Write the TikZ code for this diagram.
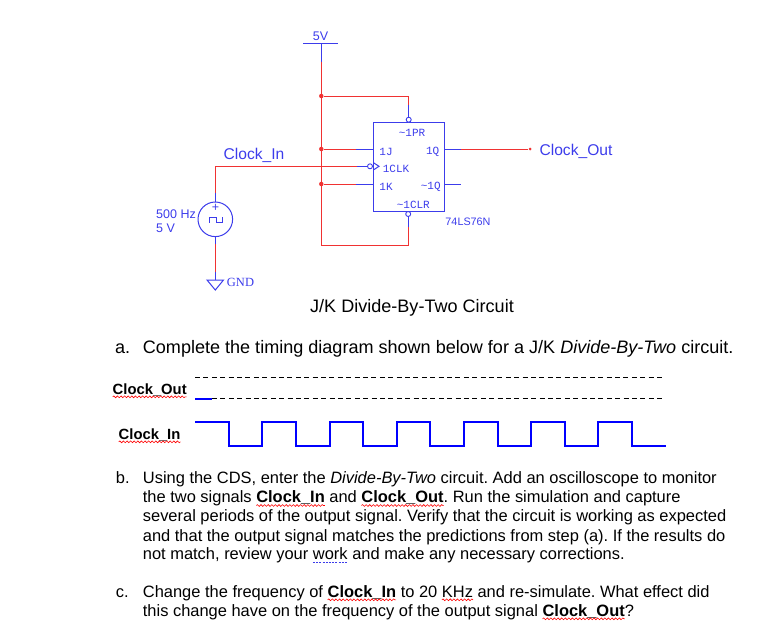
\documentclass[tikz,border=0pt]{standalone}
\usepackage{fontspec}
\setmainfont{Liberation Sans}
\newfontfamily\chipfont{Liberation Mono}
\newfontfamily\gndfont{Liberation Serif}
\usetikzlibrary{decorations.pathmorphing}
\frenchspacing
\definecolor{wireblue}{RGB}{60,60,235}
\definecolor{wirered}{RGB}{240,50,50}
\definecolor{sigblue}{RGB}{0,0,255}
\newlength{\wavylen}
\newcommand{\wavy}[2][red]{\setbox0=\hbox{#2}\setlength{\wavylen}{\wd0}\leavevmode\rlap{\box0}\tikz[overlay]{\draw[#1,line width=0.6pt,decorate,decoration={snake,amplitude=0.9pt,segment length=3.6pt}] (0pt,-2.8pt) -- (\wavylen,-2.8pt);}\hspace{\wavylen}}
\newcommand{\dotted}[1]{\setbox0=\hbox{#1}\setlength{\wavylen}{\wd0}\leavevmode\rlap{\box0}\tikz[overlay]{\draw[wireblue,line width=0.8pt,dash pattern=on 2pt off 1.2pt] (0pt,-3pt) -- (\wavylen,-3pt);}\hspace{\wavylen}}
\newcommand{\sig}[1]{\wavy{\textbf{#1}}}
\tikzset{
	bluewire/.style={draw=wireblue,line width=1pt},
	redwire/.style={draw=wirered,line width=1pt},
	junction/.style={circle,fill=wirered,inner sep=0pt,minimum size=4.5pt},
	bubble/.style={circle,draw=wireblue,fill=white,line width=0.9pt,inner sep=0pt,minimum size=5pt},
	chiplabel/.style={text=wireblue,inner sep=0pt,font=\chipfont\fontsize{11}{11}\selectfont},
	partlabel/.style={text=wireblue,inner sep=0pt,font=\fontsize{12.5}{14}\selectfont},
	netlabel/.style={text=wireblue,inner sep=0pt,font=\fontsize{15.6}{15.6}\selectfont},
	bodyline/.style={anchor=base west,inner sep=0pt,font=\fontsize{16.45}{17}\selectfont},
	bigline/.style={anchor=base west,inner sep=0pt,font=\fontsize{18.05}{18}\selectfont},
	siglabel/.style={anchor=base west,inner sep=0pt,font=\fontsize{14.8}{15}\selectfont},
	guide/.style={draw=black,line width=0.8pt,dash pattern=on 5pt off 3.4pt},
	pulse/.style={draw=sigblue,line width=2pt}
}
\begin{document}
\begin{tikzpicture}[x=1pt,y=-1pt]
	\useasboundingbox (0,0) rectangle (767,630);
	% supply rail
	\coordinate (railtop) at (321.3,43.7);
	\coordinate (railblue) at (321.3,61.7);
	\coordinate (railend) at (321.3,245.7);
	\node[junction] (jpr) at (321.3,96) {};
	\node[junction] (jj) at (321.3,149) {};
	\node[junction] (jk) at (321.3,184) {};
	\node[partlabel] (vcc) at (320.5,36) {5V};
	\draw[bluewire] (303,43.7) -- (338,43.7);
	\draw[bluewire] (railtop) -- (railblue);
	\draw[redwire] (railblue) -- (railend);
	% flip flop
	\node[draw=wireblue,line width=1pt,minimum width=71pt,minimum height=88.6pt,inner sep=0pt] (ff) at (408.8,167) {};
	\node[bubble] (prb) at (408.7,119.7) {};
	\node[bubble] (clrb) at (408.2,214) {};
	\node[bubble] (clkb) at (370,166.3) {};
	\draw[bluewire] (373.3,162.6) -- (379,166.3) -- (373.3,170);
	\node[chiplabel] (pr) at (412,132.7) {\textasciitilde 1PR};
	\node[chiplabel] (pj) at (386,151.5) {1J};
	\node[chiplabel] (pq) at (432.7,151.5) {1Q};
	\node[chiplabel] (pclk) at (396,169) {1CLK};
	\node[chiplabel] (pk) at (386,187) {1K};
	\node[chiplabel] (pnq) at (430.7,187) {\textasciitilde 1Q};
	\node[chiplabel] (clr) at (413.3,205) {\textasciitilde 1CLR};
	\node[partlabel,font=\fontsize{10.8}{12}\selectfont] (part) at (468,221.5) {74LS76N};
	% preset and clear
	\coordinate (prred) at (408.7,105);
	\coordinate (clrred) at (408.2,227);
	\draw[redwire] (jpr) -- (408.7,96) -- (prred);
	\draw[bluewire] (prred) -- (prb);
	\draw[bluewire] (clrb) -- (clrred);
	\draw[redwire] (clrred) -- (408.2,245.7) -- (railend);
	% inputs
	\coordinate (jin) at (356,149);
	\coordinate (kin) at (356,184);
	\coordinate (clkin) at (356.7,166.3);
	\draw[redwire] (jj) -- (jin);
	\draw[bluewire] (jin) -- (373.3,149);
	\draw[redwire] (jk) -- (kin);
	\draw[bluewire] (kin) -- (373.3,184);
	\draw[bluewire] (clkin) -- (clkb);
	% outputs
	\coordinate (qred) at (461,149);
	\node[circle,fill=wirered,inner sep=0pt,minimum size=3pt] (qdot) at (530,149) {};
	\node[netlabel] (clockout) at (576,151.5) {Clock\_Out};
	\draw[bluewire] (444.3,149) -- (qred);
	\draw[redwire] (qred) -- (qdot);
	\draw[bluewire] (444.3,184) -- (461,184);
	% source
	\node[circle,draw=wireblue,line width=1pt,minimum size=34.6pt,inner sep=0pt] (src) at (215.3,219.3) {};
	\node[partlabel] (plus) at (215.6,207.5) {+};
	\draw[bluewire] (209.3,222.8) -- (209.3,217.3) -- (216,217.3) -- (216,222.8) -- (222,222.8) -- (222,217.3);
	\node[netlabel] (clockin) at (254,155.5) {Clock\_In};
	\node[partlabel,anchor=west] (freq) at (156,214) {500 Hz};
	\node[partlabel,anchor=west] (amp) at (156,228.5) {5 V};
	\coordinate (srctop) at (215.3,193);
	\coordinate (srcbot) at (215.3,244);
	\coordinate (gndred) at (215.3,271.7);
	\coordinate (gndtop) at (215.3,280);
	\draw[redwire] (clkin) -- (215.3,166.3) -- (srctop);
	\draw[bluewire] (srctop) -- (src.north);
	\draw[bluewire] (src.south) -- (srcbot);
	\draw[redwire] (srcbot) -- (gndred);
	\draw[bluewire] (gndred) -- (gndtop);
	\draw[bluewire] (207,280) -- (223.5,280) -- (215.3,290) -- cycle;
	\node[text=wireblue,inner sep=0pt,font=\gndfont\fontsize{12.5}{13}\selectfont] (gnd) at (240.5,282.5) {GND};
	% title and question a
	\node[bigline] (title) at (310,312) {J/K Divide-By-Two Circuit};
	\node[bigline] (qa) at (115,353) {a.};
	\node[bigline] (qatext) at (142.7,353) {Complete the timing diagram shown below for a J/K \textit{Divide-By-Two} circuit.};
	% timing diagram
	\node[siglabel] (sigout) at (112,394) {\sig{Clock\_Out}};
	\node[siglabel] (sigin) at (118,439) {\sig{Clock\_In}};
	\draw[guide] (195,377) -- (663,377);
	\draw[guide] (212,398.5) -- (663,398.5);
	\draw[pulse] (195,398.7) -- (212,398.7);
	\draw[pulse] (195,421.7) -- (229,421.7) -- (229,446) -- (262,446) -- (262,421.7) -- (296.3,421.7) -- (296.3,446) -- (330,446) -- (330,421.7) -- (363.3,421.7) -- (363.3,446) -- (396.7,446) -- (396.7,421.7) -- (430,421.7) -- (430,446) -- (463.7,446) -- (463.7,421.7) -- (498,421.7) -- (498,446) -- (531,446) -- (531,421.7) -- (565,421.7) -- (565,446) -- (598,446) -- (598,421.7) -- (632,421.7) -- (632,446) -- (665.7,446);
	% question b
	\node[bodyline] (qb) at (115.7,483.7) {b.};
	\node[bodyline] (qb1) at (142.7,483.7) {Using the CDS, enter the \textit{Divide-By-Two} circuit. Add an oscilloscope to monitor};
	\node[bodyline] (qb2) at (142.7,502.7) {the two signals \sig{Clock\_In} and \sig{Clock\_Out}. Run the simulation and capture};
	\node[bodyline] (qb3) at (142.7,521.7) {several periods of the output signal. Verify that the circuit is working as expected};
	\node[bodyline] (qb4) at (142.7,541) {and that the output signal matches the predictions from step (a). If the results do};
	\node[bodyline] (qb5) at (142.7,559) {not match, review your \dotted{work} and make any necessary corrections.};
	% question c
	\node[bodyline] (qc) at (115.7,597) {c.};
	\node[bodyline] (qc1) at (142.7,597) {Change the frequency of \sig{Clock\_In} to 20 \wavy{KHz} and re-simulate. What effect did};
	\node[bodyline] (qc2) at (142.7,616) {this change have on the frequency of the output signal \sig{Clock\_Out}?};
\end{tikzpicture}
\end{document}
